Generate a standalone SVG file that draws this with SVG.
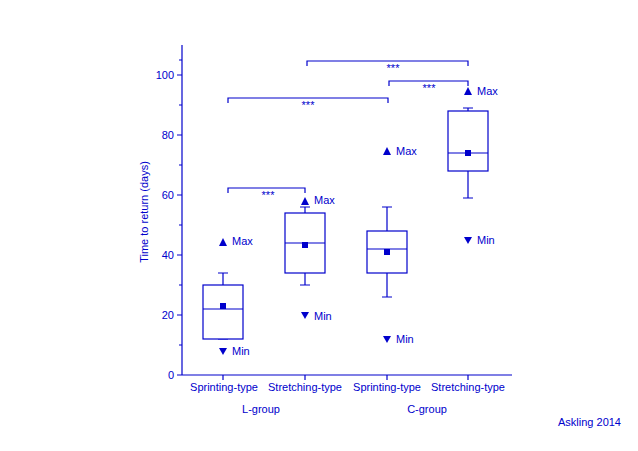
<svg xmlns="http://www.w3.org/2000/svg" width="638" height="451" viewBox="0 0 638 451">
<style>
line,rect,path{stroke:#0000cc;stroke-width:1.2;fill:none}
text{font-family:"Liberation Sans",Arial,sans-serif;fill:#0000cc;font-size:11px}
.m{fill:#0000cc;stroke:none}
.t{text-anchor:middle}
</style>
<rect width="638" height="451" fill="#fff" style="stroke:none"/>
<g id="axes">
<line x1="182" y1="45" x2="182" y2="375"/>
<line x1="182" y1="375" x2="512" y2="375"/>
<path d="M177 375H182M177 315H182M177 255H182M177 195H182M177 135H182M177 75H182M179 345H182M179 285H182M179 225H182M179 165H182M179 105H182M179 60H182"/>
<path d="M223 375V380M305 375V380M387 375V380M468 375V380"/>
<g text-anchor="end"><text x="174" y="379">0</text><text x="174" y="319">20</text><text x="174" y="259">40</text><text x="174" y="199">60</text><text x="174" y="139">80</text><text x="174" y="79">100</text></g>
<text class="t" transform="translate(148 212) rotate(-90)">Time to return (days)</text>
<text class="t" x="224" y="391">Sprinting-type</text><text class="t" x="305" y="391">Stretching-type</text>
<text class="t" x="387" y="391">Sprinting-type</text><text class="t" x="468" y="391">Stretching-type</text>
<text class="t" x="261" y="413" font-size="12">L-group</text><text class="t" x="427" y="413" font-size="12">C-group</text>
<text x="558" y="426" font-size="10">Askling 2014</text>
</g>
<g id="box1">
<path d="M223 339V273M218 273H228M218 339H228"/>
<rect x="203" y="285" width="40" height="54" fill="#fff" style="fill:#fff"/>
<line x1="203" y1="309" x2="243" y2="309"/>
<rect class="m" x="220" y="303" width="6" height="6"/>
<path class="m" d="M219 246L223 238L227 246Z"/><text x="232" y="245">Max</text>
<path class="m" d="M219 348L223 355L227 348Z"/><text x="232" y="355">Min</text>
</g>
<g id="box2">
<path d="M305 285V207M300 207H310M300 285H310"/>
<rect x="285" y="213" width="40" height="60" style="fill:#fff"/>
<line x1="285" y1="243" x2="325" y2="243"/>
<rect class="m" x="302" y="242" width="6" height="6"/>
<path class="m" d="M301 205L305 197L309 205Z"/><text x="314" y="204">Max</text>
<path class="m" d="M301 312L305 319L309 312Z"/><text x="314" y="320">Min</text>
</g>
<g id="box3">
<path d="M387 297V207M382 207H392M382 297H392"/>
<rect x="367" y="231" width="40" height="42" style="fill:#fff"/>
<line x1="367" y1="249" x2="407" y2="249"/>
<rect class="m" x="384" y="249" width="6" height="6"/>
<path class="m" d="M383 155L387 147L391 155Z"/><text x="396" y="155">Max</text>
<path class="m" d="M383 336L387 343L391 336Z"/><text x="396" y="343">Min</text>
</g>
<g id="box4">
<path d="M468 198V108M463 108H473M463 198H473"/>
<rect x="448" y="111" width="40" height="60" style="fill:#fff"/>
<line x1="448" y1="153" x2="488" y2="153"/>
<rect class="m" x="465" y="150" width="6" height="6"/>
<path class="m" d="M464 95L468 87L472 95Z"/><text x="477" y="95">Max</text>
<path class="m" d="M464 237L468 244L472 237Z"/><text x="477" y="244">Min</text>
</g>
<g id="connectors">
<path d="M228 193V188H305V193"/><text class="t" x="268" y="199">***</text>
<path d="M228 103V98H388V103"/><text class="t" x="308" y="109">***</text>
<path d="M389 86V81H468V86"/><text class="t" x="429" y="92">***</text>
<path d="M307 66V61H468V66"/><text class="t" x="393" y="72">***</text>
</g>
</svg>
